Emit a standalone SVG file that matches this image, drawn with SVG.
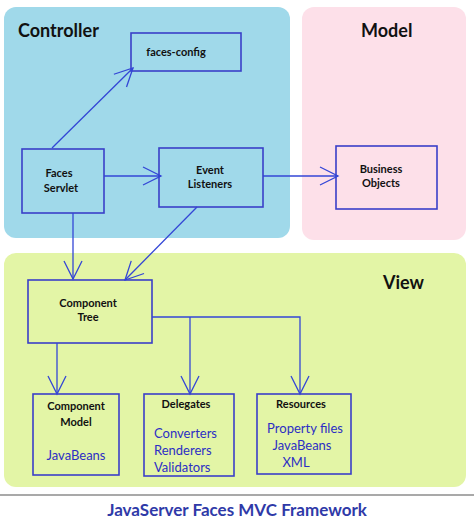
<svg xmlns="http://www.w3.org/2000/svg" width="474" height="520" viewBox="0 0 474 520">
<style>
.panel{stroke:none}
.box{fill:none;stroke:#3a3fc8;stroke-width:1.6}
.lbl{font-family:Lato,"Liberation Sans",sans-serif;font-weight:bold;font-size:11px;fill:#111;text-anchor:middle}
.big{font-family:Lato,"Liberation Sans",sans-serif;font-weight:bold;font-size:18px;fill:#111}
.blue{font-family:Lato,"Liberation Sans",sans-serif;font-size:13px;fill:#2c2ec4}
.con{fill:none;stroke:#3346d6;stroke-width:1.3}
</style>
<defs>
<marker id="arr" markerUnits="userSpaceOnUse" markerWidth="24" markerHeight="24" viewBox="-22 -12 24 24" refX="0" refY="0" orient="auto" overflow="visible">
<path d="M-18,-9 L0,0 L-18,9" fill="none" stroke="#3346d6" stroke-width="1.3"/>
</marker>
</defs>
<rect width="474" height="520" fill="#fff"/>
<g id="controller">
<rect class="panel" x="4" y="7" width="286" height="231" rx="12" fill="#a0d9ea"/>
<text class="big" x="18" y="37">Controller</text>
</g>
<g id="model">
<rect class="panel" x="302" y="7" width="164" height="233" rx="12" fill="#fde0e9"/>
<text class="big" x="361" y="37">Model</text>
</g>
<g id="view">
<rect class="panel" x="4" y="253" width="462" height="234" rx="12" fill="#e3f5a6"/>
<text class="big" x="383" y="289">View</text>
</g>
<g id="faces-config">
<rect class="box" x="131" y="33" width="110" height="38"/>
<text class="lbl" x="176" y="56">faces-config</text>
</g>
<g id="faces-servlet">
<rect class="box" x="22" y="149" width="82" height="64"/>
<text class="lbl" x="59" y="177">Faces</text>
<text class="lbl" x="61" y="192">Servlet</text>
</g>
<g id="event-listeners">
<rect class="box" x="159" y="148" width="104" height="59"/>
<text class="lbl" x="210" y="174">Event</text>
<text class="lbl" x="210" y="188">Listeners</text>
</g>
<g id="business-objects">
<rect class="box" x="336" y="146" width="101" height="63" stroke="#5a48d8"/>
<text class="lbl" x="381" y="173">Business</text>
<text class="lbl" x="381" y="187">Objects</text>
</g>
<g id="component-tree">
<rect class="box" x="28" y="280" width="124" height="63"/>
<text class="lbl" x="88" y="307">Component</text>
<text class="lbl" x="88" y="321">Tree</text>
</g>
<g id="component-model">
<rect class="box" x="33" y="394" width="86" height="81"/>
<text class="lbl" x="76" y="410">Component</text>
<text class="lbl" x="76" y="426">Model</text>
<text class="blue" x="76" y="460" text-anchor="middle">JavaBeans</text>
</g>
<g id="delegates">
<rect class="box" x="144" y="394" width="90" height="82"/>
<text class="lbl" x="186" y="408">Delegates</text>
<text class="blue" x="154" y="438">Converters</text>
<text class="blue" x="154" y="455">Renderers</text>
<text class="blue" x="154" y="472">Validators</text>
</g>
<g id="resources">
<rect class="box" x="257" y="394" width="94" height="80"/>
<text class="lbl" x="301" y="408">Resources</text>
<text class="blue" x="305" y="433" text-anchor="middle">Property files</text>
<text class="blue" x="302" y="450" text-anchor="middle">JavaBeans</text>
<text class="blue" x="296" y="467" text-anchor="middle">XML</text>
</g>
<g id="connectors">
<line class="con" x1="52" y1="148" x2="133" y2="68" marker-end="url(#arr)"/>
<line class="con" x1="104" y1="176" x2="161" y2="176" marker-end="url(#arr)"/>
<line class="con" x1="263" y1="176" x2="338" y2="176" marker-end="url(#arr)"/>
<line class="con" x1="73" y1="213" x2="73" y2="279" marker-end="url(#arr)"/>
<line class="con" x1="197" y1="207" x2="125" y2="280" marker-end="url(#arr)"/>
<line class="con" x1="57" y1="343" x2="57" y2="394" marker-end="url(#arr)"/>
<polyline class="con" points="152,317 300,317 300,394" marker-end="url(#arr)"/>
<line class="con" x1="190" y1="317" x2="190" y2="394" marker-end="url(#arr)"/>
</g>
<line x1="0" y1="495" x2="474" y2="495" stroke="#555" stroke-width="1.2"/>
<text x="237" y="516" text-anchor="middle" font-family="Lato,'Liberation Sans',sans-serif" font-weight="bold" font-size="17" fill="#2f3aa8">JavaServer Faces MVC Framework</text>
</svg>
